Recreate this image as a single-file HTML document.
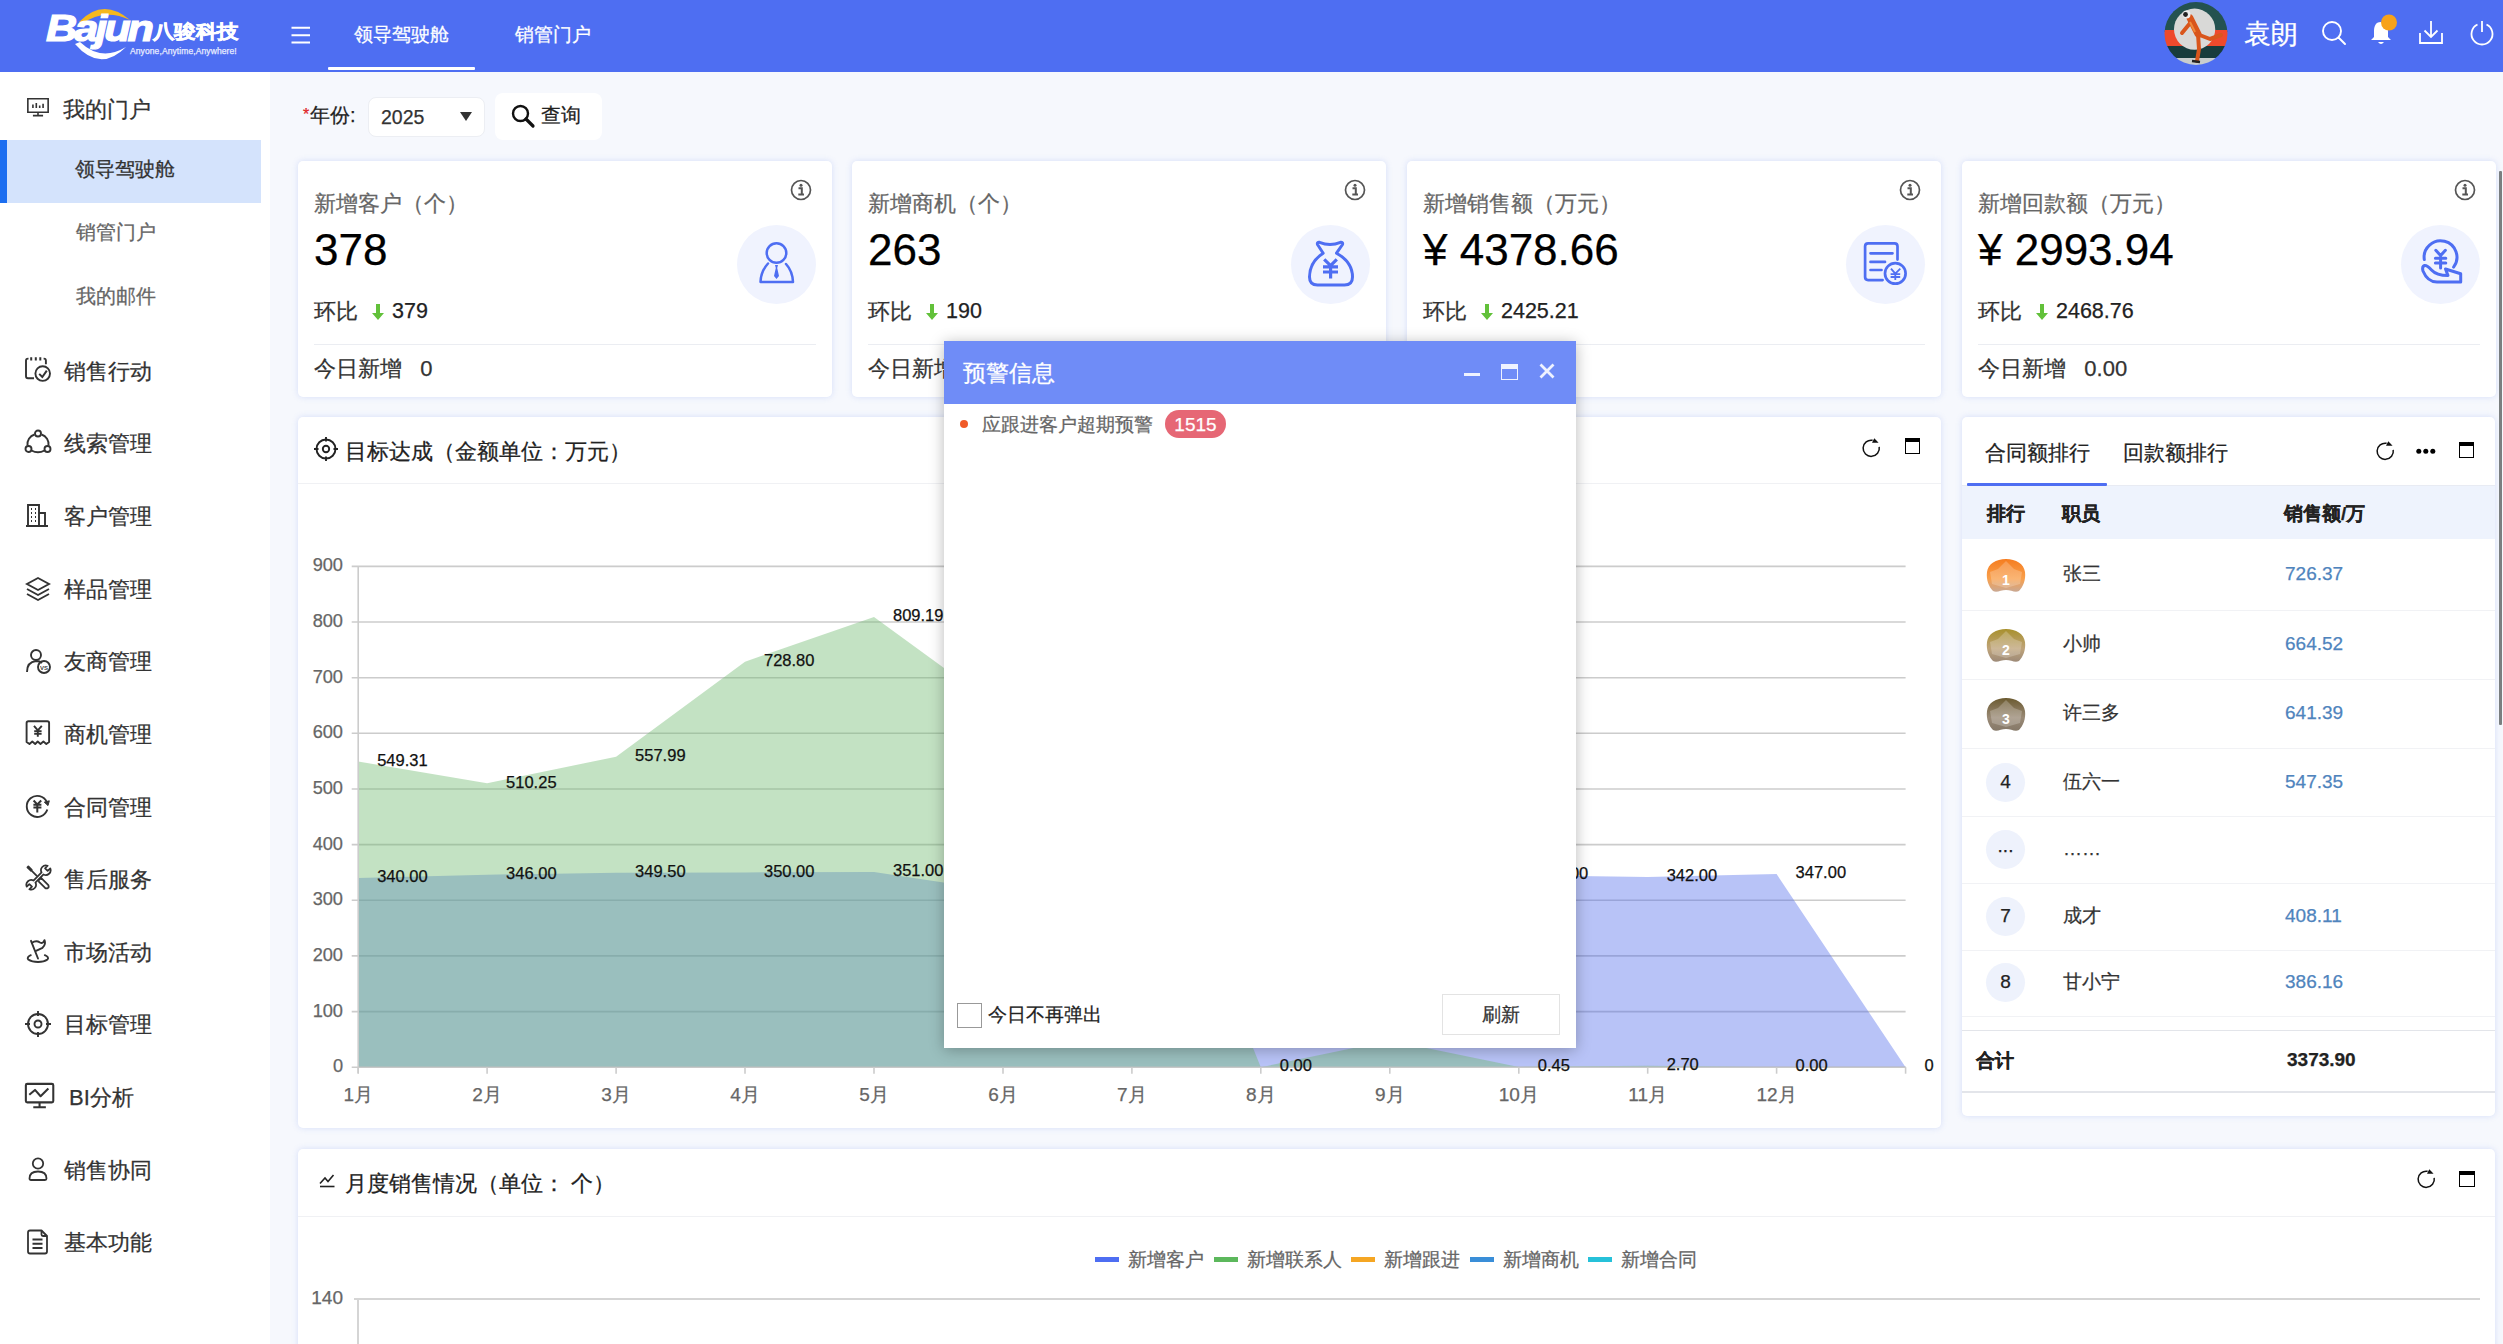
<!DOCTYPE html>
<html><head><meta charset="utf-8">
<style>
*{box-sizing:border-box;margin:0;padding:0}
html,body{width:2503px;height:1344px;overflow:hidden;background:#f6f8fd;font-family:"Liberation Sans",sans-serif;color:#333}
.abs{position:absolute}
#hdr{position:absolute;left:0;top:0;width:2503px;height:72px;background:#4e6ef2}
#side{position:absolute;left:0;top:72px;width:270px;height:1272px;background:#fff}
.card{position:absolute;background:#fff;border-radius:5px;box-shadow:0 0 6px rgba(100,130,230,.22)}
.t{position:absolute;white-space:nowrap;line-height:1;-webkit-text-stroke:0.25px currentColor}
</style></head><body>
<div id="hdr">
 <svg class="abs" style="left:70px;top:3px" width="70" height="58" viewBox="0 0 70 58">
  <path d="M9 19 Q33 -6 60 17 Q34 5 12 21 Z" fill="#f5b81c"/>
  <path d="M5 41 Q30 70 56 44 Q31 59 10 39 Z" fill="#fff"/>
 </svg>
 <div class="t" style="left:46px;top:11px;font-size:36px;font-weight:bold;font-style:italic;color:#fff;letter-spacing:-2.5px;transform:scaleX(1.2);transform-origin:0 0;-webkit-text-stroke:1.2px #fff">Bajun</div>
 <div class="t" style="left:153px;top:22px;font-size:19px;font-weight:bold;color:#fff;transform:scaleX(1.13);transform-origin:0 0;-webkit-text-stroke:0.5px #fff">八骏科技</div>
 <div class="t" style="left:130px;top:47px;font-size:8.5px;color:#e8ecff;letter-spacing:0.1px">Anyone,Anytime,Anywhere!</div>
 <svg class="abs" style="left:291px;top:26px" width="20" height="19" viewBox="0 0 20 19"><path d="M0.5 1.8H19M0.5 9.2H19M0.5 16.6H19" stroke="#fff" stroke-width="2"/></svg>
 <div class="t" style="left:354px;top:25px;font-size:19px;color:#fff">领导驾驶舱</div>
 <div class="abs" style="left:328px;top:67px;width:147px;height:3px;background:#fff;border-radius:1px"></div>
 <div class="t" style="left:515px;top:25px;font-size:19px;color:#fff">销管门户</div>
 <svg class="abs" style="left:2164px;top:2px" width="64" height="64" viewBox="0 0 64 64">
 <defs><clipPath id="av"><circle cx="32" cy="31.5" r="31.5"/></clipPath></defs>
 <g clip-path="url(#av)">
  <rect x="0" y="0" width="64" height="30" fill="#245250"/>
  <rect x="0" y="28" width="64" height="16" fill="#ee4a2c"/>
  <rect x="0" y="44" width="64" height="12" fill="#183c3c"/>
  <rect x="0" y="56" width="64" height="8" fill="#c9cdcd"/>
  <circle cx="30.6" cy="27.2" r="20.6" fill="#d9d9d7"/>
  <path d="M26 16L34 32" fill="none" stroke="#d9561c" stroke-width="7" stroke-linecap="round"/><path d="M27 20L18 31M33 32L46 37L57 33M34 32L35 47L33 59" fill="none" stroke="#d9561c" stroke-width="4" stroke-linecap="round" stroke-linejoin="round"/>
  <path d="M26 20L31 30" stroke="#f08a3a" stroke-width="2"/>
  <circle cx="22.5" cy="12.5" r="4" fill="#ececec"/><circle cx="21.5" cy="12.5" r="2.4" fill="#222"/>
  <path d="M28 59L36 60" stroke="#222" stroke-width="2.5"/>
 </g>
</svg>
 <div class="t" style="left:2244px;top:21px;font-size:27px;color:#fff">袁朗</div>
 <svg class="abs" style="left:2320px;top:19px" width="28" height="28" viewBox="0 0 28 28"><circle cx="12" cy="12" r="9" fill="none" stroke="#fff" stroke-width="1.9"/><path d="M18.5 18.5L25 25" stroke="#fff" stroke-width="2" stroke-linecap="round"/></svg>
 <svg class="abs" style="left:2366px;top:12px" width="36" height="34" viewBox="0 0 36 34"><path d="M15 10 C9 10 8 15 8 20 L8 25 L5 28 L25 28 L22 25 L22 20 C22 15 21 10 15 10Z" fill="#fff"/><path d="M12 30 Q15 34 18 30Z" fill="#fff"/><circle cx="23" cy="10.5" r="8" fill="#f7a21b"/></svg>
 <svg class="abs" style="left:2417px;top:19px" width="28" height="28" viewBox="0 0 28 28"><path d="M14 2V18M7.5 11.5L14 18L20.5 11.5" fill="none" stroke="#fff" stroke-width="1.8"/><path d="M3 14V24H25V14" fill="none" stroke="#fff" stroke-width="1.8"/></svg>
 <svg class="abs" style="left:2468px;top:19px" width="28" height="28" viewBox="0 0 28 28"><path d="M9.5 5.5 A10.5 10.5 0 1 0 18.5 5.5" fill="none" stroke="#fff" stroke-width="1.8"/><path d="M14 2V13" stroke="#fff" stroke-width="1.8"/></svg>
</div>
<div id="side">
<svg class="abs" style="left:26px;top:25px" width="24" height="22" viewBox="0 0 28 26"><path d="M2 2H26V18H2Z" fill="none" stroke="#333" stroke-width="1.9"/><path d="M8 22H20M14 18V22M8 13V9M12 13V7M16 13V10M20 13V8" fill="none" stroke="#333" stroke-width="1.9"/></svg>
<div class="t" style="left:63px;top:26.5px;font-size:22px;color:#333">我的门户</div>
<div class="abs" style="left:0;top:68px;width:261px;height:63px;background:#d4e3fc"></div><div class="abs" style="left:0;top:68px;width:7px;height:63px;background:#1c6ef0"></div>
<div class="t" style="left:75px;top:87px;font-size:20px;color:#333">领导驾驶舱</div>
<div class="t" style="left:76px;top:150px;font-size:20px;color:#666">销管门户</div>
<div class="t" style="left:76px;top:213.5px;font-size:20px;color:#666">我的邮件</div>
<svg class="abs" style="left:24px;top:285px" width="28" height="28" viewBox="0 0 28 28"><path d="M4.5 1.6H4Q2 1.6 2 3.6V19.3Q2 21.3 4 21.3H10" fill="none" stroke="#333" stroke-width="1.9" stroke-linejoin="round"/><path d="M7.2 0.3V3.6M11.8 0.3V3.6M16.3 0.3V3.6" fill="none" stroke="#333" stroke-width="2"/><path d="M19.6 1.6H20Q21.9 1.6 21.9 3.6V7.3" fill="none" stroke="#333" stroke-width="1.9" stroke-linejoin="round"/><circle cx="18.7" cy="16.6" r="7.3" fill="none" stroke="#333" stroke-width="1.9" stroke-linejoin="round"/><path d="M15.2 16.9L18.3 20L22.8 13.6" fill="none" stroke="#333" stroke-width="2"/></svg>
<div class="t" style="left:64px;top:289px;font-size:22px;color:#333">销售行动</div>
<svg class="abs" style="left:24px;top:357px" width="28" height="28" viewBox="0 0 28 28"><circle cx="14" cy="4.5" r="3" fill="none" stroke="#333" stroke-width="1.9"/><circle cx="4.5" cy="20" r="3" fill="none" stroke="#333" stroke-width="1.9"/><circle cx="23.5" cy="20" r="3" fill="none" stroke="#333" stroke-width="1.9"/><path d="M10.5 5.5A10 10 0 0 0 3.5 16.5M17.5 5.5A10 10 0 0 1 24.5 16.5M7.5 21.5Q14 25 20.5 21.5" fill="none" stroke="#333" stroke-width="1.9"/></svg>
<div class="t" style="left:64px;top:361px;font-size:22px;color:#333">线索管理</div>
<svg class="abs" style="left:24px;top:430px" width="28" height="28" viewBox="0 0 28 28"><path d="M4 24V3H15V24M15 11H21V24M2 24H24" fill="none" stroke="#333" stroke-width="1.9"/><path d="M7 7H8M11 7H12M7 11H8M11 11H12M7 15H8M11 15H12M7 19H8M11 19H12" fill="none" stroke="#333" stroke-width="1.9"/></svg>
<div class="t" style="left:64px;top:434px;font-size:22px;color:#333">客户管理</div>
<svg class="abs" style="left:24px;top:503px" width="28" height="28" viewBox="0 0 28 28"><path d="M14 3L25 9L14 15L3 9Z" fill="none" stroke="#333" stroke-width="1.9"/><path d="M3 14L14 20L25 14M3 19L14 25L25 19" fill="none" stroke="#333" stroke-width="1.9"/></svg>
<div class="t" style="left:64px;top:507px;font-size:22px;color:#333">样品管理</div>
<svg class="abs" style="left:24px;top:575px" width="28" height="28" viewBox="0 0 28 28"><circle cx="12" cy="8" r="5" fill="none" stroke="#333" stroke-width="1.9"/><path d="M3 25Q3 15 12 14Q16 14 18 16" fill="none" stroke="#333" stroke-width="1.9"/><circle cx="20" cy="20" r="6" fill="none" stroke="#333" stroke-width="1.9"/><text x="20" y="22.5" font-size="6" text-anchor="middle" font-family="Liberation Sans" font-weight="bold" fill="#444">VS</text></svg>
<div class="t" style="left:64px;top:579px;font-size:22px;color:#333">友商管理</div>
<svg class="abs" style="left:24px;top:648px" width="28" height="28" viewBox="0 0 28 28"><path d="M2.6 21.9V3Q2.6 1.2 4.4 1.2H23.3Q25.1 1.2 25.1 3V21.9L22.3 24L19.4 21.5L16.5 24L13.7 21.5L11.2 24L8.3 21.5L5.5 24Z" fill="none" stroke="#333" stroke-width="1.9" stroke-linejoin="round"/><path d="M10 5.8L13.8 10.4L17.8 5.8M13.8 10.4V16.8M10.2 11.3H17.6M10.2 13.9H17.6" fill="none" stroke="#333" stroke-width="1.9"/></svg>
<div class="t" style="left:64px;top:652px;font-size:22px;color:#333">商机管理</div>
<svg class="abs" style="left:24px;top:721px" width="28" height="28" viewBox="0 0 28 28"><path d="M23.3 16.5A10.5 10.5 0 1 1 22.9 9.2" fill="none" stroke="#333" stroke-width="1.9"/><path d="M24 12.6L25.3 7.8L20.3 9.2Z" fill="#333" stroke="#333" stroke-width="1" stroke-linejoin="round"/><path d="M9.6 7.5L13.3 11.4L17.2 7.5M13.3 11.4V19.4M9.4 11.8H17.4M9.4 14.6H17.4" fill="none" stroke="#333" stroke-width="2"/></svg>
<div class="t" style="left:64px;top:725px;font-size:22px;color:#333">合同管理</div>
<svg class="abs" style="left:24.5px;top:792px" width="27" height="27" viewBox="0 0 28 28"><path d="M17.2 8.8A5 5 0 0 1 23.5 1.8L20.8 4.5L23.5 7.2L26.2 4.5A5 5 0 0 1 19.2 10.8L10.8 19.2A5 5 0 0 1 4.5 26.2L7.2 23.5L4.5 20.8L1.8 23.5A5 5 0 0 1 8.8 17.2Z" fill="none" stroke="#333" stroke-width="1.8" stroke-linejoin="round"/><path d="M2.5 3.5L3.5 2.5L7 6L6 7Z" fill="none" stroke="#333" stroke-width="1.8" stroke-linejoin="round"/><path d="M6.5 6.5L12.5 12.5M13.8 17.2L17.2 13.8" fill="none" stroke="#333" stroke-width="1.8" stroke-linejoin="round"/><path d="M16 16L17.2 14.8L24.2 21.8Q25.2 24 23.6 25Q22 25.8 20.6 24.6L13.8 17.8" fill="none" stroke="#333" stroke-width="1.8" stroke-linejoin="round"/></svg>
<div class="t" style="left:64px;top:797px;font-size:22px;color:#333">售后服务</div>
<svg class="abs" style="left:24px;top:866px" width="28" height="28" viewBox="0 0 28 28"><path d="M7 2.8L14 20.5" fill="none" stroke="#333" stroke-width="1.9" stroke-linecap="round" stroke-linejoin="round"/><path d="M8 4.8Q12 1.8 16 4.5Q19 6.2 20.5 2.2Q22.2 6.5 18.5 9.8Q15.5 11.2 12 12.8" fill="none" stroke="#333" stroke-width="1.9" stroke-linecap="round" stroke-linejoin="round"/><path d="M6.8 17.2Q2.5 19.2 4.2 21.5Q8 24 14 24Q20 24 23.5 21.5Q25.5 19.2 20.8 17.2" fill="none" stroke="#333" stroke-width="1.9" stroke-linecap="round" stroke-linejoin="round"/></svg>
<div class="t" style="left:64px;top:870px;font-size:22px;color:#333">市场活动</div>
<svg class="abs" style="left:24px;top:938px" width="28" height="28" viewBox="0 0 28 28"><circle cx="14" cy="14" r="10" fill="none" stroke="#333" stroke-width="1.9"/><circle cx="14" cy="14" r="3.5" fill="none" stroke="#333" stroke-width="1.9"/><path d="M14 1V6M14 22V27M1 14H6M22 14H27" fill="none" stroke="#333" stroke-width="1.9"/></svg>
<div class="t" style="left:64px;top:942px;font-size:22px;color:#333">目标管理</div>
<svg class="abs" style="left:23px;top:1009px" width="32" height="30" viewBox="0 0 28 26.25"><rect x="2.5" y="2.5" width="24" height="16.2" rx="1.2" fill="none" stroke="#333" stroke-width="1.8"/><path d="M14.5 18.7V22.8M9 23H20" fill="none" stroke="#333" stroke-width="1.8"/><path d="M5.5 12.1L10.5 7.8L15.4 13.3L22.2 6.5" fill="none" stroke="#333" stroke-width="1.8" stroke-linejoin="round"/></svg>
<div class="t" style="left:69px;top:1015px;font-size:22px;color:#333">BI分析</div>
<svg class="abs" style="left:24px;top:1084px" width="28" height="28" viewBox="0 0 28 28"><circle cx="14" cy="7.5" r="5.2" fill="none" stroke="#333" stroke-width="1.8"/><path d="M5.5 22.5Q5.5 15.5 14 15.5Q22.5 15.5 22.5 22.5Q22.5 24 21 24H7Q5.5 24 5.5 22.5Z" fill="none" stroke="#333" stroke-width="1.8"/></svg>
<div class="t" style="left:64px;top:1088px;font-size:22px;color:#333">销售协同</div>
<svg class="abs" style="left:24px;top:1156px" width="28" height="28" viewBox="0 0 28 28"><path d="M6 2.5H17.5L23 8V23.5Q23 25.5 21 25.5H6Q4 25.5 4 23.5V4.5Q4 2.5 6 2.5Z" fill="none" stroke="#333" stroke-width="1.8" stroke-linejoin="round"/><path d="M17.5 2.5V6.5Q17.5 8 19 8H23" fill="none" stroke="#333" stroke-width="1.8"/><path d="M8.5 11.5H18.5M8.5 15.8H18.5M8.5 20H18.5" fill="none" stroke="#333" stroke-width="2"/></svg>
<div class="t" style="left:64px;top:1160px;font-size:22px;color:#333">基本功能</div>
</div>
<!-- stat cards -->
<div class="t" style="left:303px;top:107px;font-size:16px;color:#e02424">*</div>
<div class="t" style="left:310px;top:105px;font-size:20px;color:#222">年份:</div>
<div class="abs" style="left:368px;top:97px;width:117px;height:40px;background:#fff;border:1px solid #eceef3;border-radius:8px"></div>
<div class="t" style="left:381px;top:107.5px;font-size:19.5px;color:#333">2025</div>
<svg class="abs" style="left:459px;top:111px" width="14" height="11" viewBox="0 0 14 11"><path d="M1 1H13L7 10Z" fill="#333"/></svg>
<div class="abs" style="left:495px;top:93px;width:107px;height:47px;background:#fff;border-radius:8px"></div>
<svg class="abs" style="left:510px;top:103px" width="26" height="26" viewBox="0 0 26 26"><circle cx="10.5" cy="10.5" r="7.5" fill="none" stroke="#111" stroke-width="2.4"/><path d="M16 16L23 23" stroke="#111" stroke-width="3.2" stroke-linecap="round"/></svg>
<div class="t" style="left:541px;top:105px;font-size:20px;color:#222">查询</div>
<div class="card" style="left:298px;top:161px;width:534px;height:236px">
<div class="t" style="left:16px;top:32px;font-size:22px;color:#666">新增客户（个）</div>
<svg class="abs" style="left:492px;top:18px" width="22" height="22" viewBox="0 0 22 22"><circle cx="11" cy="11" r="9.5" fill="none" stroke="#555" stroke-width="1.7"/><circle cx="11" cy="6.3" r="1.5" fill="#555"/><path d="M8.5 9.3H11.8V15.5M8.3 15.6H14" fill="none" stroke="#555" stroke-width="2"/></svg>
<div class="t" style="left:16px;top:67px;font-size:44px;color:#000">378</div>
<div class="abs" style="left:439px;top:64px;width:79px;height:79px;border-radius:50%;background:#f0f3fe"></div>
<svg class="abs" style="left:439px;top:64px" width="80" height="80" viewBox="0 0 80 80"><circle cx="39.5" cy="28" r="9.8" fill="none" stroke="#4e6ef2" stroke-width="2.5" stroke-linejoin="round" stroke-linecap="round"/><path d="M31 38.5Q24 46 23.5 57H56Q55.5 46 49 39" fill="none" stroke="#4e6ef2" stroke-width="2.5" stroke-linejoin="round" stroke-linecap="round"/><path d="M38 40H41L40.2 43L42 51L39.5 54L37 51L38.8 43Z" fill="#4e6ef2"/></svg>
<div class="t" style="left:16px;top:140px;font-size:22px;color:#333">环比</div>
<svg class="abs" style="left:73px;top:143px" width="14" height="17" viewBox="0 0 14 17"><path d="M5 0H9V9H13L7 16L1 9H5Z" fill="#62c13a"/></svg>
<div class="t" style="left:94px;top:140px;font-size:21.5px;color:#222">379</div>
<div class="abs" style="left:16px;top:183px;width:502px;height:1px;background:#ebedf2"></div>
<div class="t" style="left:16px;top:197px;font-size:22px;color:#333">今日新增&nbsp;&nbsp;&nbsp;0</div>
</div>
<div class="card" style="left:852px;top:161px;width:534px;height:236px">
<div class="t" style="left:16px;top:32px;font-size:22px;color:#666">新增商机（个）</div>
<svg class="abs" style="left:492px;top:18px" width="22" height="22" viewBox="0 0 22 22"><circle cx="11" cy="11" r="9.5" fill="none" stroke="#555" stroke-width="1.7"/><circle cx="11" cy="6.3" r="1.5" fill="#555"/><path d="M8.5 9.3H11.8V15.5M8.3 15.6H14" fill="none" stroke="#555" stroke-width="2"/></svg>
<div class="t" style="left:16px;top:67px;font-size:44px;color:#000">263</div>
<div class="abs" style="left:439px;top:64px;width:79px;height:79px;border-radius:50%;background:#f0f3fe"></div>
<svg class="abs" style="left:439px;top:64px" width="80" height="80" viewBox="0 0 80 80"><path d="M32.2 28.2L26.5 19.5Q25.8 17 28.5 17.3Q39 21.5 49.5 17.3Q52.2 17 51.5 19.5L45.5 28.2Q61.5 37 61.5 52Q61.5 60 53.5 60H26.5Q18.5 60 18.5 52Q18.5 37 32.2 28.2Z" fill="none" stroke="#4e6ef2" stroke-width="3" stroke-linejoin="round" stroke-linecap="round"/><path d="M33.2 34.3L39.6 40.6L45.8 34.3M39.6 40.6V53.5M32 41.8H47M32 47H47" fill="none" stroke="#4e6ef2" stroke-width="3.2" stroke-linejoin="round"/></svg>
<div class="t" style="left:16px;top:140px;font-size:22px;color:#333">环比</div>
<svg class="abs" style="left:73px;top:143px" width="14" height="17" viewBox="0 0 14 17"><path d="M5 0H9V9H13L7 16L1 9H5Z" fill="#62c13a"/></svg>
<div class="t" style="left:94px;top:140px;font-size:21.5px;color:#222">190</div>
<div class="abs" style="left:16px;top:183px;width:502px;height:1px;background:#ebedf2"></div>
<div class="t" style="left:16px;top:197px;font-size:22px;color:#333">今日新增&nbsp;&nbsp;&nbsp;0</div>
</div>
<div class="card" style="left:1407px;top:161px;width:534px;height:236px">
<div class="t" style="left:16px;top:32px;font-size:22px;color:#666">新增销售额（万元）</div>
<svg class="abs" style="left:492px;top:18px" width="22" height="22" viewBox="0 0 22 22"><circle cx="11" cy="11" r="9.5" fill="none" stroke="#555" stroke-width="1.7"/><circle cx="11" cy="6.3" r="1.5" fill="#555"/><path d="M8.5 9.3H11.8V15.5M8.3 15.6H14" fill="none" stroke="#555" stroke-width="2"/></svg>
<div class="t" style="left:16px;top:67px;font-size:44px;color:#000">¥ 4378.66</div>
<div class="abs" style="left:439px;top:64px;width:79px;height:79px;border-radius:50%;background:#f0f3fe"></div>
<svg class="abs" style="left:439px;top:64px" width="80" height="80" viewBox="0 0 80 80"><path d="M51.5 34.6V21.3Q51.5 18.3 48.5 18.3H22.1Q19.1 18.3 19.1 21.3V52.1Q19.1 55.1 22.1 55.1H36.6" fill="none" stroke="#4e6ef2" stroke-width="2.7" stroke-linejoin="round" stroke-linecap="round"/><path d="M24.5 28.3H46.5M24.5 36.9H39M24.5 45H35.5" fill="none" stroke="#4e6ef2" stroke-width="2.7" stroke-linejoin="round" stroke-linecap="round"/><circle cx="49.3" cy="48.4" r="10.3" fill="none" stroke="#4e6ef2" stroke-width="2.7" stroke-linejoin="round" stroke-linecap="round"/><path d="M45 43.6L49.3 48.6L54.3 43.6M49.3 48.6V55M44.6 49.2H54.2M44.6 52H54.2" fill="none" stroke="#4e6ef2" stroke-width="1.8"/></svg>
<div class="t" style="left:16px;top:140px;font-size:22px;color:#333">环比</div>
<svg class="abs" style="left:73px;top:143px" width="14" height="17" viewBox="0 0 14 17"><path d="M5 0H9V9H13L7 16L1 9H5Z" fill="#62c13a"/></svg>
<div class="t" style="left:94px;top:140px;font-size:21.5px;color:#222">2425.21</div>
<div class="abs" style="left:16px;top:183px;width:502px;height:1px;background:#ebedf2"></div>
<div class="t" style="left:16px;top:197px;font-size:22px;color:#333">今日新增&nbsp;&nbsp;&nbsp;0.00</div>
</div>
<div class="card" style="left:1962px;top:161px;width:534px;height:236px">
<div class="t" style="left:16px;top:32px;font-size:22px;color:#666">新增回款额（万元）</div>
<svg class="abs" style="left:492px;top:18px" width="22" height="22" viewBox="0 0 22 22"><circle cx="11" cy="11" r="9.5" fill="none" stroke="#555" stroke-width="1.7"/><circle cx="11" cy="6.3" r="1.5" fill="#555"/><path d="M8.5 9.3H11.8V15.5M8.3 15.6H14" fill="none" stroke="#555" stroke-width="2"/></svg>
<div class="t" style="left:16px;top:67px;font-size:44px;color:#000">¥ 2993.94</div>
<div class="abs" style="left:439px;top:64px;width:79px;height:79px;border-radius:50%;background:#f0f3fe"></div>
<svg class="abs" style="left:439px;top:64px" width="80" height="80" viewBox="0 0 80 80"><path d="M23.3 34.6A16.4 16.4 0 1 1 52.6 42.1" fill="none" stroke="#4e6ef2" stroke-width="3" stroke-linejoin="round" stroke-linecap="round"/><path d="M34.8 25.3L39.6 30.6L44.4 25.3M39.6 30.6V43M34.4 33.2H44.8M34.4 38H44.8" fill="none" stroke="#4e6ef2" stroke-width="3" stroke-linejoin="round" stroke-linecap="round"/><path d="M44.5 44L59.7 48.8V57H36Q26.5 57 22 46Q20.8 41.5 23.5 40.5Q26 40 30.5 45Q35.5 50.5 47 50.6Z" fill="none" stroke="#4e6ef2" stroke-width="3" stroke-linejoin="round" stroke-linecap="round"/></svg>
<div class="t" style="left:16px;top:140px;font-size:22px;color:#333">环比</div>
<svg class="abs" style="left:73px;top:143px" width="14" height="17" viewBox="0 0 14 17"><path d="M5 0H9V9H13L7 16L1 9H5Z" fill="#62c13a"/></svg>
<div class="t" style="left:94px;top:140px;font-size:21.5px;color:#222">2468.76</div>
<div class="abs" style="left:16px;top:183px;width:502px;height:1px;background:#ebedf2"></div>
<div class="t" style="left:16px;top:197px;font-size:22px;color:#333">今日新增&nbsp;&nbsp;&nbsp;0.00</div>
</div>
<div class="card" style="left:298px;top:417px;width:1643px;height:711px">
<svg class="abs" style="left:15px;top:19px" width="26" height="26" viewBox="0 0 26 26"><circle cx="13" cy="13" r="9.5" fill="none" stroke="#222" stroke-width="1.9"/><circle cx="13" cy="13" r="3.2" fill="none" stroke="#222" stroke-width="1.9"/><path d="M13 1V5.5M13 20.5V25M1 13H5.5M20.5 13H25" stroke="#222" stroke-width="1.9"/></svg>
<div class="t" style="left:47px;top:24px;font-size:22px;color:#222">目标达成（金额单位：万元）</div>
<div class="abs" style="left:0;top:66px;width:1643px;height:1px;background:#f0f1f4"></div>
<svg class="abs" style="left:1562px;top:20px" width="22" height="22" viewBox="0 0 22 22"><path d="M12.6 3.3A8.1 8.1 0 1 0 19.2 9.9" fill="none" stroke="#111" stroke-width="1.5"/><path d="M12 5.8L14.3 1.2L18.6 5.8Z" fill="#111"/></svg>
<div class="abs" style="left:1606.5px;top:21.19999999999999px;width:15.5px;height:16px;border:1.7px solid #000;border-top-width:4.8px"></div>
<!--CHART--><svg class="abs" style="left:0;top:0" width="1643" height="711" viewBox="0 0 1643 711"><path d="M53.7 650.2H1607.6" stroke="#cccccc" stroke-width="1.6"/><path d="M53.7 594.6H1607.6" stroke="#cccccc" stroke-width="1.6"/><path d="M53.7 538.9H1607.6" stroke="#cccccc" stroke-width="1.6"/><path d="M53.7 483.3H1607.6" stroke="#cccccc" stroke-width="1.6"/><path d="M53.7 427.6H1607.6" stroke="#cccccc" stroke-width="1.6"/><path d="M53.7 372.0H1607.6" stroke="#cccccc" stroke-width="1.6"/><path d="M53.7 316.3H1607.6" stroke="#cccccc" stroke-width="1.6"/><path d="M53.7 260.7H1607.6" stroke="#cccccc" stroke-width="1.6"/><path d="M53.7 205.0H1607.6" stroke="#cccccc" stroke-width="1.6"/><path d="M53.7 149.4H1607.6" stroke="#cccccc" stroke-width="1.6"/><polygon points="60.2,461.0 189.1,457.7 318.1,455.7 447.0,455.4 576.0,454.9 705.0,474.4 833.9,466.6 962.8,461.0 1091.8,462.1 1220.8,458.2 1349.7,459.9 1478.6,457.1 1607.6,650.2 1607.6,650.2 60.2,650.2" fill="rgb(78,105,235)" fill-opacity="0.4"/><polygon points="60.2,344.5 189.1,366.3 318.1,339.7 447.0,244.7 576.0,199.9 705.0,294.1 833.9,331.9 962.8,650.2 1091.8,623.5 1220.8,649.9 1349.7,648.7 1478.6,650.2 1607.6,650.2 1607.6,650.2 60.2,650.2" fill="rgb(112,186,112)" fill-opacity="0.42"/><path d="M60.2 149.4V656.2" stroke="#cccccc" stroke-width="1.6"/><path d="M60.2 650.2H1607.6" stroke="#c8c8c8" stroke-width="1.6"/><path d="M60.2 650.2V656.7" stroke="#cccccc" stroke-width="1.6"/><path d="M189.1 650.2V656.7" stroke="#cccccc" stroke-width="1.6"/><path d="M318.1 650.2V656.7" stroke="#cccccc" stroke-width="1.6"/><path d="M447.0 650.2V656.7" stroke="#cccccc" stroke-width="1.6"/><path d="M576.0 650.2V656.7" stroke="#cccccc" stroke-width="1.6"/><path d="M705.0 650.2V656.7" stroke="#cccccc" stroke-width="1.6"/><path d="M833.9 650.2V656.7" stroke="#cccccc" stroke-width="1.6"/><path d="M962.8 650.2V656.7" stroke="#cccccc" stroke-width="1.6"/><path d="M1091.8 650.2V656.7" stroke="#cccccc" stroke-width="1.6"/><path d="M1220.8 650.2V656.7" stroke="#cccccc" stroke-width="1.6"/><path d="M1349.7 650.2V656.7" stroke="#cccccc" stroke-width="1.6"/><path d="M1478.6 650.2V656.7" stroke="#cccccc" stroke-width="1.6"/><path d="M1607.6 650.2V656.7" stroke="#cccccc" stroke-width="1.6"/></svg>
<div class="t" style="right:1598.0px;top:640.2px;font-size:18.2px;color:#666">0</div><div class="t" style="right:1598.0px;top:584.6px;font-size:18.2px;color:#666">100</div><div class="t" style="right:1598.0px;top:528.9px;font-size:18.2px;color:#666">200</div><div class="t" style="right:1598.0px;top:473.3px;font-size:18.2px;color:#666">300</div><div class="t" style="right:1598.0px;top:417.6px;font-size:18.2px;color:#666">400</div><div class="t" style="right:1598.0px;top:362.0px;font-size:18.2px;color:#666">500</div><div class="t" style="right:1598.0px;top:306.3px;font-size:18.2px;color:#666">600</div><div class="t" style="right:1598.0px;top:250.7px;font-size:18.2px;color:#666">700</div><div class="t" style="right:1598.0px;top:195.0px;font-size:18.2px;color:#666">800</div><div class="t" style="right:1598.0px;top:139.4px;font-size:18.2px;color:#666">900</div><div class="t" style="left:0.2px;width:120px;text-align:center;top:668.2px;font-size:19px;color:#666">1月</div><div class="t" style="left:129.1px;width:120px;text-align:center;top:668.2px;font-size:19px;color:#666">2月</div><div class="t" style="left:258.1px;width:120px;text-align:center;top:668.2px;font-size:19px;color:#666">3月</div><div class="t" style="left:387.0px;width:120px;text-align:center;top:668.2px;font-size:19px;color:#666">4月</div><div class="t" style="left:516.0px;width:120px;text-align:center;top:668.2px;font-size:19px;color:#666">5月</div><div class="t" style="left:645.0px;width:120px;text-align:center;top:668.2px;font-size:19px;color:#666">6月</div><div class="t" style="left:773.9px;width:120px;text-align:center;top:668.2px;font-size:19px;color:#666">7月</div><div class="t" style="left:902.8px;width:120px;text-align:center;top:668.2px;font-size:19px;color:#666">8月</div><div class="t" style="left:1031.8px;width:120px;text-align:center;top:668.2px;font-size:19px;color:#666">9月</div><div class="t" style="left:1160.8px;width:120px;text-align:center;top:668.2px;font-size:19px;color:#666">10月</div><div class="t" style="left:1289.7px;width:120px;text-align:center;top:668.2px;font-size:19px;color:#666">11月</div><div class="t" style="left:1418.6px;width:120px;text-align:center;top:668.2px;font-size:19px;color:#666">12月</div><div class="t" style="left:79.2px;top:334.7px;font-size:16.5px;color:#111">549.31</div><div class="t" style="left:79.2px;top:451.2px;font-size:16.5px;color:#111">340.00</div><div class="t" style="left:208.1px;top:356.5px;font-size:16.5px;color:#111">510.25</div><div class="t" style="left:208.1px;top:447.9px;font-size:16.5px;color:#111">346.00</div><div class="t" style="left:337.1px;top:329.9px;font-size:16.5px;color:#111">557.99</div><div class="t" style="left:337.1px;top:445.9px;font-size:16.5px;color:#111">349.50</div><div class="t" style="left:466.0px;top:234.9px;font-size:16.5px;color:#111">728.80</div><div class="t" style="left:466.0px;top:445.6px;font-size:16.5px;color:#111">350.00</div><div class="t" style="left:595.0px;top:190.1px;font-size:16.5px;color:#111">809.19</div><div class="t" style="left:595.0px;top:445.1px;font-size:16.5px;color:#111">351.00</div><div class="t" style="left:724.0px;top:284.3px;font-size:16.5px;color:#111">640.00</div><div class="t" style="left:724.0px;top:464.6px;font-size:16.5px;color:#111">316.00</div><div class="t" style="left:852.9px;top:322.1px;font-size:16.5px;color:#111">572.00</div><div class="t" style="left:852.9px;top:456.8px;font-size:16.5px;color:#111">330.00</div><div class="t" style="left:981.8px;top:640.4px;font-size:16.5px;color:#111">0.00</div><div class="t" style="left:981.8px;top:451.2px;font-size:16.5px;color:#111">340.00</div><div class="t" style="left:1110.8px;top:613.7px;font-size:16.5px;color:#111">48.00</div><div class="t" style="left:1110.8px;top:452.3px;font-size:16.5px;color:#111">338.00</div><div class="t" style="left:1239.8px;top:640.1px;font-size:16.5px;color:#111">0.45</div><div class="t" style="left:1239.8px;top:448.4px;font-size:16.5px;color:#111">345.00</div><div class="t" style="left:1368.7px;top:638.9px;font-size:16.5px;color:#111">2.70</div><div class="t" style="left:1368.7px;top:450.1px;font-size:16.5px;color:#111">342.00</div><div class="t" style="left:1497.6px;top:640.4px;font-size:16.5px;color:#111">0.00</div><div class="t" style="left:1497.6px;top:447.3px;font-size:16.5px;color:#111">347.00</div><div class="t" style="left:1626.6px;top:640.4px;font-size:16.5px;color:#111">0</div>
<!--/CHART-->
</div>
</div>
</div>
<div class="card" style="left:1962px;top:417px;width:533px;height:699px;overflow:hidden">
<div class="t" style="left:23px;top:25px;font-size:21px;color:#222">合同额排行</div>
<div class="t" style="left:161px;top:25px;font-size:21px;color:#222">回款额排行</div>
<div class="abs" style="left:0;top:68px;width:533px;height:1px;background:#e8ebf3"></div>
<div class="abs" style="left:5px;top:66px;width:140px;height:3px;background:#4e6ef2;border-radius:1px"></div>
<svg class="abs" style="left:412px;top:23px" width="22" height="22" viewBox="0 0 22 22"><path d="M12.6 3.3A8.1 8.1 0 1 0 19.2 9.9" fill="none" stroke="#111" stroke-width="1.5"/><path d="M12 5.8L14.3 1.2L18.6 5.8Z" fill="#111"/></svg>
<svg class="abs" style="left:454px;top:30px" width="22" height="8" viewBox="0 0 22 8"><circle cx="2.8" cy="4.3" r="2.5" fill="#000"/><circle cx="9.8" cy="4.3" r="2.5" fill="#000"/><circle cx="16.8" cy="4.3" r="2.5" fill="#000"/></svg>
<div class="abs" style="left:496.5px;top:25px;width:15.5px;height:16px;border:1.7px solid #000;border-top-width:4.8px"></div>
<div class="abs" style="left:0;top:69px;width:533px;height:53px;background:#eef3fd"></div>
<div class="t" style="left:25px;top:87px;font-size:19px;font-weight:bold;color:#222">排行</div>
<div class="t" style="left:100px;top:87px;font-size:19px;font-weight:bold;color:#222">职员</div>
<div class="t" style="left:322px;top:87px;font-size:19px;font-weight:bold;color:#222">销售额/万</div>
<svg class="abs" style="left:24px;top:141px" width="40" height="35" viewBox="0 0 40 35">
<defs><linearGradient id="m1" x1="0" y1="0" x2="0" y2="1"><stop offset="0" stop-color="#f57c1f"/><stop offset="0.6" stop-color="#f9a04c"/><stop offset="1" stop-color="#c9a893"/></linearGradient></defs>
<path d="M20 1C30 1 38 6 39 14C40 22 37 29 33 33C29 35 25 32 20 32C15 32 11 35 7 33C3 29 0 22 1 14C2 6 10 1 20 1Z" fill="url(#m1)"/>
<path d="M4 14L12 11L20 3L28 11L36 14L34 26L20 30L6 26Z" fill="#fff" fill-opacity="0.22"/>
<text x="20" y="27" font-size="14" font-weight="bold" text-anchor="middle" font-family="Liberation Sans" fill="#fff">1</text></svg>
<div class="t" style="left:101px;top:147px;font-size:19px;color:#333">张三</div>
<div class="t" style="left:323px;top:147px;font-size:19px;color:#4f84bd">726.37</div>
<svg class="abs" style="left:24px;top:211px" width="40" height="35" viewBox="0 0 40 35">
<defs><linearGradient id="m2" x1="0" y1="0" x2="0" y2="1"><stop offset="0" stop-color="#a8902c"/><stop offset="0.6" stop-color="#bfa47a"/><stop offset="1" stop-color="#9d8a78"/></linearGradient></defs>
<path d="M20 1C30 1 38 6 39 14C40 22 37 29 33 33C29 35 25 32 20 32C15 32 11 35 7 33C3 29 0 22 1 14C2 6 10 1 20 1Z" fill="url(#m2)"/>
<path d="M4 14L12 11L20 3L28 11L36 14L34 26L20 30L6 26Z" fill="#fff" fill-opacity="0.22"/>
<text x="20" y="27" font-size="14" font-weight="bold" text-anchor="middle" font-family="Liberation Sans" fill="#fff">2</text></svg>
<div class="t" style="left:101px;top:217px;font-size:19px;color:#333">小帅</div>
<div class="t" style="left:323px;top:217px;font-size:19px;color:#4f84bd">664.52</div>
<svg class="abs" style="left:24px;top:280px" width="40" height="35" viewBox="0 0 40 35">
<defs><linearGradient id="m3" x1="0" y1="0" x2="0" y2="1"><stop offset="0" stop-color="#6b5a30"/><stop offset="0.6" stop-color="#9a8a76"/><stop offset="1" stop-color="#857868"/></linearGradient></defs>
<path d="M20 1C30 1 38 6 39 14C40 22 37 29 33 33C29 35 25 32 20 32C15 32 11 35 7 33C3 29 0 22 1 14C2 6 10 1 20 1Z" fill="url(#m3)"/>
<path d="M4 14L12 11L20 3L28 11L36 14L34 26L20 30L6 26Z" fill="#fff" fill-opacity="0.22"/>
<text x="20" y="27" font-size="14" font-weight="bold" text-anchor="middle" font-family="Liberation Sans" fill="#fff">3</text></svg>
<div class="t" style="left:101px;top:286px;font-size:19px;color:#333">许三多</div>
<div class="t" style="left:323px;top:286px;font-size:19px;color:#4f84bd">641.39</div>
<div class="abs" style="left:24px;top:345.5px;width:39px;height:39px;border-radius:50%;background:#eef2fc"></div>
<div class="t" style="left:24px;width:39px;text-align:center;top:355px;font-size:19px;color:#222">4</div>
<div class="t" style="left:101px;top:355px;font-size:19px;color:#333">伍六一</div>
<div class="t" style="left:323px;top:355px;font-size:19px;color:#4f84bd">547.35</div>
<div class="abs" style="left:24px;top:412.5px;width:39px;height:39px;border-radius:50%;background:#eef2fc"></div>
<div class="t" style="left:24px;width:39px;text-align:center;top:419px;font-size:19px;color:#222">...</div>
<div class="t" style="left:101px;top:422px;font-size:19px;color:#333">……</div>
<div class="abs" style="left:24px;top:479.5px;width:39px;height:39px;border-radius:50%;background:#eef2fc"></div>
<div class="t" style="left:24px;width:39px;text-align:center;top:489px;font-size:19px;color:#222">7</div>
<div class="t" style="left:101px;top:489px;font-size:19px;color:#333">成才</div>
<div class="t" style="left:323px;top:489px;font-size:19px;color:#4f84bd">408.11</div>
<div class="abs" style="left:24px;top:545.5px;width:39px;height:39px;border-radius:50%;background:#eef2fc"></div>
<div class="t" style="left:24px;width:39px;text-align:center;top:555px;font-size:19px;color:#222">8</div>
<div class="t" style="left:101px;top:555px;font-size:19px;color:#333">甘小宁</div>
<div class="t" style="left:323px;top:555px;font-size:19px;color:#4f84bd">386.16</div>
<div class="abs" style="left:0;top:192.5px;width:533px;height:1px;background:#f1f2f5"></div>
<div class="abs" style="left:0;top:262px;width:533px;height:1px;background:#f1f2f5"></div>
<div class="abs" style="left:0;top:331px;width:533px;height:1px;background:#f1f2f5"></div>
<div class="abs" style="left:0;top:398.5px;width:533px;height:1px;background:#f1f2f5"></div>
<div class="abs" style="left:0;top:465.5px;width:533px;height:1px;background:#f1f2f5"></div>
<div class="abs" style="left:0;top:532.5px;width:533px;height:1px;background:#f1f2f5"></div>
<div class="abs" style="left:0;top:599px;width:533px;height:1px;background:#f1f2f5"></div>
<div class="abs" style="left:0;top:613px;width:533px;height:1px;background:#e3e5ea"></div>
<div class="t" style="left:14px;top:634px;font-size:19px;font-weight:bold;color:#222">合计</div>
<div class="t" style="left:325px;top:633px;font-size:19px;font-weight:bold;color:#222">3373.90</div>
<div class="abs" style="left:0;top:674px;width:533px;height:1.5px;background:#e3e5ea"></div>
</div>
<div class="card" style="left:298px;top:1149px;width:2197px;height:240px">
<svg class="abs" style="left:20.5px;top:23.5px" width="18" height="16" viewBox="0 0 18 16"><path d="M1 10.5L6 5L9 8.5L14.5 2" fill="none" stroke="#222" stroke-width="1.6"/><path d="M1 13.5H15.5" stroke="#222" stroke-width="1.6"/></svg>
<div class="t" style="left:47px;top:24px;font-size:22px;color:#222">月度销售情况（单位：&nbsp;个）</div>
<div class="abs" style="left:0;top:67px;width:2197px;height:1px;background:#f0f1f4"></div>
<svg class="abs" style="left:2117px;top:19px" width="22" height="22" viewBox="0 0 22 22"><path d="M12.6 3.3A8.1 8.1 0 1 0 19.2 9.9" fill="none" stroke="#111" stroke-width="1.5"/><path d="M12 5.8L14.3 1.2L18.6 5.8Z" fill="#111"/></svg>
<div class="abs" style="left:2161px;top:22px;width:15.5px;height:16px;border:1.7px solid #000;border-top-width:4.8px"></div>
<div class="abs" style="left:797px;top:108px;width:24px;height:5px;border-radius:0;background:#4e6ef2"></div>
<div class="t" style="left:830px;top:101px;font-size:19px;color:#666">新增客户</div>
<div class="abs" style="left:916px;top:108px;width:24px;height:5px;border-radius:0;background:#5cb85c"></div>
<div class="t" style="left:949px;top:101px;font-size:19px;color:#666">新增联系人</div>
<div class="abs" style="left:1053px;top:108px;width:24px;height:5px;border-radius:0;background:#f5a623"></div>
<div class="t" style="left:1086px;top:101px;font-size:19px;color:#666">新增跟进</div>
<div class="abs" style="left:1172px;top:108px;width:24px;height:5px;border-radius:0;background:#3a8ed8"></div>
<div class="t" style="left:1205px;top:101px;font-size:19px;color:#666">新增商机</div>
<div class="abs" style="left:1290px;top:108px;width:24px;height:5px;border-radius:0;background:#26c1d9"></div>
<div class="t" style="left:1323px;top:101px;font-size:19px;color:#666">新增合同</div>
<div class="t" style="right:2152px;top:139px;font-size:19px;color:#666">140</div>
<div class="abs" style="left:56px;top:149px;width:2126px;height:1.5px;background:#d5d5d5"></div>
<div class="abs" style="left:59px;top:149px;width:1.5px;height:100px;background:#d5d5d5"></div>
</div>
<div class="abs" style="left:944px;top:341px;width:632px;height:707px;background:#fff;box-shadow:0 2px 14px rgba(0,0,0,.28)">
<div class="abs" style="left:0;top:0;width:632px;height:63px;background:#6f8cf7"></div>
<div class="t" style="left:19px;top:21px;font-size:23px;color:#fff">预警信息</div>
<div class="abs" style="left:519.5px;top:31.5px;width:16.5px;height:3.6px;background:#eef2ff"></div>
<div class="abs" style="left:557px;top:22.5px;width:17px;height:16px;border:1.9px solid #eef2ff;border-top-width:5.2px"></div>
<svg class="abs" style="left:594px;top:21px" width="18" height="18" viewBox="0 0 18 18"><path d="M2.5 2.5L15.5 15.5M15.5 2.5L2.5 15.5" stroke="#eef2ff" stroke-width="2.8"/></svg>
<div class="abs" style="left:16px;top:79px;width:8px;height:8px;border-radius:50%;background:#f05a28"></div>
<div class="t" style="left:38px;top:74px;font-size:19px;color:#666">应跟进客户超期预警</div>
<div class="abs" style="left:221px;top:69px;width:61px;height:28px;border-radius:14px;background:#e66775"></div>
<div class="t" style="left:221px;width:61px;text-align:center;top:74px;font-size:19px;color:#fff">1515</div>
<div class="abs" style="left:13px;top:662px;width:25px;height:25px;border:1px solid #999;background:#fff"></div>
<div class="t" style="left:44px;top:664px;font-size:19px;color:#222">今日不再弹出</div>
<div class="abs" style="left:498px;top:653px;width:118px;height:41px;border:1px solid #e3e3e3;background:#fff"></div>
<div class="t" style="left:498px;width:118px;text-align:center;top:664px;font-size:19px;color:#333">刷新</div>
</div>
<div class="abs" style="left:2499px;top:171px;width:3px;height:554px;background:#7a7f80;border-radius:1px"></div>
</body></html>
